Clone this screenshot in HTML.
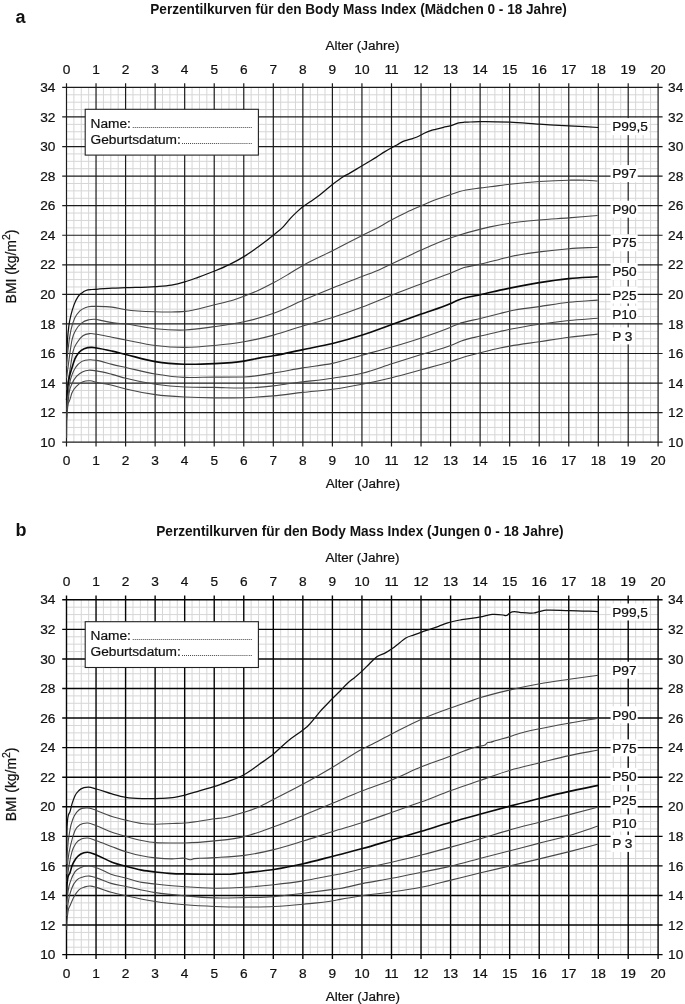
<!DOCTYPE html>
<html><head><meta charset="utf-8"><title>Perzentilkurven BMI</title>
<style>
html,body{margin:0;padding:0;background:#fff;}
body{width:685px;height:1004px;overflow:hidden;}
svg{display:block;}
.t{font-family:'Liberation Sans', Arial, Helvetica, sans-serif;font-size:13.7px;fill:#111;stroke:#111;stroke-width:0.22px;}
.tb{font-family:'Liberation Sans', Arial, Helvetica, sans-serif;font-size:14px;font-weight:bold;fill:#111;}
.lt{font-family:'Liberation Sans', Arial, Helvetica, sans-serif;font-size:18px;font-weight:bold;fill:#111;}
.d{font-family:'Liberation Sans',Arial,sans-serif;font-size:8.6px;fill:#222;}
.sup{font-size:10.5px;}
</style></head><body>
<svg width="685" height="1004" viewBox="0 0 685 1004">
<rect width="685" height="1004" fill="#fff"/>
<path d="M73.89,87.41V442.2M81.27,87.41V442.2M88.66,87.41V442.2M103.43,87.41V442.2M110.82,87.41V442.2M118.2,87.41V442.2M132.97,87.41V442.2M140.36,87.41V442.2M147.75,87.41V442.2M162.52,87.41V442.2M169.91,87.41V442.2M177.29,87.41V442.2M192.06,87.41V442.2M199.45,87.41V442.2M206.84,87.41V442.2M221.61,87.41V442.2M228.99,87.41V442.2M236.38,87.41V442.2M251.15,87.41V442.2M258.54,87.41V442.2M265.92,87.41V442.2M280.7,87.41V442.2M288.08,87.41V442.2M295.47,87.41V442.2M310.24,87.41V442.2M317.63,87.41V442.2M325.01,87.41V442.2M339.79,87.41V442.2M347.17,87.41V442.2M354.56,87.41V442.2M369.33,87.41V442.2M376.72,87.41V442.2M384.1,87.41V442.2M398.87,87.41V442.2M406.26,87.41V442.2M413.65,87.41V442.2M428.42,87.41V442.2M435.81,87.41V442.2M443.19,87.41V442.2M457.96,87.41V442.2M465.35,87.41V442.2M472.74,87.41V442.2M487.51,87.41V442.2M494.89,87.41V442.2M502.28,87.41V442.2M517.05,87.41V442.2M524.44,87.41V442.2M531.82,87.41V442.2M546.6,87.41V442.2M553.98,87.41V442.2M561.37,87.41V442.2M576.14,87.41V442.2M583.53,87.41V442.2M590.91,87.41V442.2M605.77,87.41V442.2M613.25,87.41V442.2M620.73,87.41V442.2M635.67,87.41V442.2M643.15,87.41V442.2M650.62,87.41V442.2M66.5,434.81H658.1M66.5,427.42H658.1M66.5,420.03H658.1M66.5,405.24H658.1M66.5,397.85H658.1M66.5,390.46H658.1M66.5,375.68H658.1M66.5,368.28H658.1M66.5,360.89H658.1M66.5,346.11H658.1M66.5,338.72H658.1M66.5,331.33H658.1M66.5,316.54H658.1M66.5,309.15H658.1M66.5,301.76H658.1M66.5,286.98H658.1M66.5,279.59H658.1M66.5,272.2H658.1M66.5,257.41H658.1M66.5,250.02H658.1M66.5,242.63H658.1M66.5,227.85H658.1M66.5,220.45H658.1M66.5,213.06H658.1M66.5,198.28H658.1M66.5,190.89H658.1M66.5,183.5H658.1M66.5,168.71H658.1M66.5,161.32H658.1M66.5,153.93H658.1M66.5,139.15H658.1M66.5,131.76H658.1M66.5,124.37H658.1M66.5,109.58H658.1M66.5,102.19H658.1M66.5,94.8H658.1" stroke="#d6d6d6" stroke-width="1" fill="none"/>
<path d="M66.5,83.21V446.5M96.04,83.21V446.5M125.59,83.21V446.5M155.13,83.21V446.5M184.68,83.21V446.5M214.22,83.21V446.5M243.77,83.21V446.5M273.31,83.21V446.5M302.86,83.21V446.5M332.4,83.21V446.5M361.94,83.21V446.5M391.49,83.21V446.5M421.03,83.21V446.5M450.58,83.21V446.5M480.12,83.21V446.5M509.67,83.21V446.5M539.21,83.21V446.5M568.76,83.21V446.5M598.3,83.21V446.5M628.2,83.21V446.5M658.1,83.21V446.5M62.2,442.2H662.6M62.2,412.63H662.6M62.2,383.07H662.6M62.2,353.5H662.6M62.2,323.94H662.6M62.2,294.37H662.6M62.2,264.8H662.6M62.2,235.24H662.6M62.2,205.67H662.6M62.2,176.11H662.6M62.2,146.54H662.6M62.2,116.97H662.6M62.2,87.41H662.6" stroke="#1c1c1c" stroke-width="1.2" fill="none"/>
<path d="M66.6,356 C66.9,350.6 67.2,344.3 67.5,339.8 C68,332.3 68.5,328.72 69,324.8 C69.67,319.58 70.33,317.77 71,314.9 C72,310.6 73,307.68 74,304.9 C75.3,301.29 76.6,298.89 77.9,296.9 C79.23,294.86 80.57,293.97 81.9,292.9 C83.23,291.83 84.57,291.07 85.9,290.5 C87.9,289.65 89.9,289.69 91.9,289.5 C93.4,289.35 94.9,289.38 96.4,289.3 C101.6,289.04 106.8,288.47 112,288.2 C116.6,287.96 121.2,287.87 125.8,287.7 C135.67,287.34 145.53,287.33 155.4,286.6 C160.73,286.21 166.07,286.03 171.4,285.1 C175.83,284.33 180.27,283.2 184.7,281.9 C189.13,280.6 193.57,278.9 198,277.3 C203.57,275.3 209.13,273.28 214.7,271 C219.57,269.01 224.43,267 229.3,264.6 C234.17,262.2 239.03,259.58 243.9,256.6 C248.83,253.58 253.77,250.18 258.7,246.6 C263.77,242.93 268.83,239 273.9,234.8 C277.07,232.17 280.23,229.91 283.4,226.6 C285.67,224.23 287.93,221.07 290.2,218.6 C292.53,216.06 294.87,213.76 297.2,211.6 C299.17,209.78 301.13,208.03 303.1,206.5 C305.43,204.69 307.77,203.39 310.1,201.8 C313.2,199.68 316.3,197.72 319.4,195.3 C321.73,193.48 324.07,191.33 326.4,189.4 C328.5,187.67 330.6,185.93 332.7,184.3 C336.07,181.69 339.43,179.1 342.8,177 C345.13,175.54 347.47,174.44 349.8,173.1 C353.2,171.15 356.6,169.04 360,167 C362.67,165.4 365.33,163.79 368,162.2 C370.7,160.59 373.4,159.09 376.1,157.4 C378.77,155.73 381.43,153.76 384.1,152.1 C386.6,150.54 389.1,149.05 391.6,147.7 C393.37,146.74 395.13,145.97 396.9,145 C398.8,143.95 400.7,142.49 402.6,141.6 C405,140.48 407.4,140.17 409.8,139.4 C412.2,138.63 414.6,138.02 417,137 C419.4,135.98 421.8,134.41 424.2,133.3 C426.37,132.3 428.53,131.32 430.7,130.6 C432.3,130.07 433.9,129.72 435.5,129.3 C438.17,128.6 440.83,127.93 443.5,127.3 C446.03,126.7 448.57,126.34 451.1,125.6 C453.67,124.85 456.23,123.35 458.8,122.8 C460.67,122.4 462.53,122.33 464.4,122.2 C466.27,122.07 468.13,122.07 470,122 C473.37,121.88 476.73,121.68 480.1,121.6 C490.07,121.36 500.03,121.76 510,122.2 C519.83,122.63 529.67,123.58 539.5,124.2 C549.33,124.82 559.17,125.35 569,125.9 C578.77,126.45 588.53,126.97 598.3,127.5" stroke="#111" stroke-width="1.25" fill="none" stroke-linejoin="round"/>
<path d="M66.6,366 C67.07,360.57 67.53,354.39 68,349.7 C69,339.65 70,334.89 71,329.8 C72.3,323.19 73.6,320.83 74.9,317.8 C76.57,313.91 78.23,312.6 79.9,310.9 C81.9,308.86 83.9,308.15 85.9,307.4 C87.9,306.65 89.9,306.54 91.9,306.4 C93.4,306.29 94.9,306.38 96.4,306.4 C101.6,306.45 106.8,306.47 112,307.1 C116.6,307.66 121.2,309.01 125.8,309.7 C135.67,311.19 145.53,311.48 155.4,311.8 C160.27,311.96 165.13,312.07 170,312 C174.9,311.93 179.8,311.9 184.7,311.4 C194.63,310.39 204.57,307.07 214.5,304.7 C220.83,303.19 227.17,302.01 233.5,300 C236.97,298.9 240.43,297.61 243.9,296.3 C248.83,294.43 253.77,292.45 258.7,290.2 C263.77,287.89 268.83,285.33 273.9,282.6 C278.77,279.98 283.63,277.09 288.5,274.2 C293.3,271.35 298.1,268.15 302.9,265.4 C312.77,259.74 322.63,255.69 332.5,250.7 C342.4,245.69 352.3,240.44 362.2,235.4 C368.13,232.38 374.07,229.63 380,226.4 C383.8,224.33 387.6,221.96 391.4,219.9 C396.37,217.21 401.33,214.73 406.3,212.4 C411.27,210.07 416.23,208.03 421.2,205.9 C426.17,203.77 431.13,201.5 436.1,199.6 C441.07,197.7 446.03,196.25 451,194.5 C453.6,193.58 456.2,192.51 458.8,191.7 C466.1,189.44 473.4,188.88 480.7,187.9 C483.8,187.48 486.9,187.18 490,186.8 C496.6,185.99 503.2,184.96 509.8,184.2 C519.63,183.07 529.47,182.17 539.3,181.5 C549.1,180.84 558.9,180.36 568.7,180.2 C574.6,180.1 580.5,179.94 586.4,180.2 C590.13,180.36 593.87,180.73 597.6,181" stroke="#484848" stroke-width="1.1" fill="none" stroke-linejoin="round"/>
<path d="M66.6,378 C67.4,371.9 68.2,365.45 69,359.7 C70,352.52 71,344.66 72,339.8 C73.33,333.32 74.67,332.43 76,329.8 C77.97,325.93 79.93,324.45 81.9,322.8 C84.23,320.84 86.57,320.37 88.9,319.8 C90.9,319.31 92.9,319.21 94.9,319.3 C97.2,319.4 99.5,320.16 101.8,320.6 C105.2,321.25 108.6,322.07 112,322.6 C116.6,323.32 121.2,323.45 125.8,324 C135.67,325.18 145.53,327.7 155.4,328.7 C165.17,329.69 174.93,330.33 184.7,330 C194.63,329.66 204.57,327.98 214.5,326.6 C224.3,325.24 234.1,323.99 243.9,321.8 C253.83,319.58 263.77,316.93 273.7,313.3 C283.47,309.73 293.23,304.5 303,300.3 C312.87,296.06 322.73,291.98 332.6,288 C342.4,284.05 352.2,280.35 362,276.5 C368,274.14 374,272.03 380,269.4 C383.8,267.74 387.6,265.87 391.4,264.1 C396.37,261.78 401.33,259.43 406.3,257.1 C411.27,254.77 416.23,252.38 421.2,250.1 C426.17,247.82 431.13,245.45 436.1,243.4 C441.07,241.35 446.03,239.53 451,237.8 C453.6,236.9 456.2,236.03 458.8,235.2 C466.1,232.87 473.4,230.92 480.7,229.1 C483.8,228.33 486.9,227.58 490,226.9 C496.6,225.44 503.2,224.23 509.8,223.2 C519.63,221.67 529.47,220.88 539.3,220 C549.1,219.12 558.9,218.66 568.7,217.9 C578.33,217.16 587.97,216.3 597.6,215.5" stroke="#484848" stroke-width="1.1" fill="none" stroke-linejoin="round"/>
<path d="M66.6,390 C67.73,383.2 68.87,376.38 70,369.6 C71,363.62 72,356.07 73,351.7 C74.33,345.87 75.67,345.12 77,342.7 C78.97,339.13 80.93,337.33 82.9,335.8 C85.23,333.98 87.57,333.82 89.9,333.6 C92.07,333.39 94.23,334.01 96.4,334.3 C101.6,334.99 106.8,336.29 112,337.3 C116.6,338.19 121.2,339.11 125.8,340 C135.67,341.9 145.53,344.27 155.4,345.5 C165.07,346.71 174.73,347.38 184.4,347.4 C194.43,347.42 204.47,346.45 214.5,345.5 C224.3,344.57 234.1,343.52 243.9,341.8 C253.83,340.06 263.77,337.77 273.7,335.1 C283.43,332.48 293.17,328.9 302.9,326 C312.77,323.06 322.63,320.74 332.5,317.6 C342.43,314.44 352.37,310.9 362.3,307.1 C368.2,304.84 374.1,302.41 380,300 C383.8,298.45 387.6,296.83 391.4,295.3 C396.37,293.3 401.33,291.4 406.3,289.5 C411.27,287.6 416.23,285.75 421.2,283.9 C426.17,282.05 431.13,280.23 436.1,278.4 C441.07,276.57 446.03,274.83 451,272.9 C455.37,271.21 459.73,268.99 464.1,267.6 C469.63,265.83 475.17,265.38 480.7,264.1 C487.13,262.62 493.57,260.84 500,259.2 C503.27,258.37 506.53,257.46 509.8,256.7 C519.67,254.41 529.53,253.23 539.4,251.9 C549.23,250.57 559.07,249.49 568.9,248.7 C578.53,247.93 588.17,247.7 597.8,247.2" stroke="#484848" stroke-width="1.1" fill="none" stroke-linejoin="round"/>
<path d="M66.6,400 C67.23,394 67.87,386.79 68.5,382 C69.67,373.17 70.83,371.9 72,367.8 C72.97,364.4 73.93,361.27 74.9,358.9 C76.23,355.63 77.57,354.14 78.9,352.5 C80.9,350.03 82.9,349.26 84.9,348.4 C87.23,347.4 89.57,347.34 91.9,347.4 C93.4,347.44 94.9,347.78 96.4,348 C101.6,348.77 106.8,349.94 112,351.1 C116.6,352.13 121.2,353.38 125.8,354.5 C135.67,356.91 145.53,359.98 155.4,361.6 C165.07,363.19 174.73,363.88 184.4,364.2 C194.43,364.54 204.47,364.1 214.5,363.6 C224.3,363.12 234.1,362.64 243.9,361.1 C249.3,360.25 254.7,358.85 260.1,357.9 C264.53,357.12 268.97,356.57 273.4,355.8 C283.2,354.09 293,351.64 302.8,349.6 C312.73,347.54 322.67,345.93 332.6,343.5 C342.53,341.07 352.47,338.18 362.4,335 C372.2,331.87 382,328.08 391.8,324.6 C401.6,321.12 411.4,317.59 421.2,314.1 C431.03,310.59 440.87,308.07 450.7,303.6 C453.27,302.43 455.83,300.92 458.4,299.9 C461.8,298.55 465.2,297.81 468.6,297 C472.5,296.07 476.4,295.61 480.3,294.8 C486.87,293.44 493.43,291.52 500,290.1 C503.27,289.4 506.53,288.75 509.8,288.1 C519.67,286.13 529.53,284.19 539.4,282.6 C549.23,281.02 559.07,279.59 568.9,278.6 C578.53,277.63 588.17,277.33 597.8,276.7" stroke="#0a0a0a" stroke-width="1.6" fill="none" stroke-linejoin="round"/>
<path d="M66.6,410 C67.57,401.27 68.53,389.69 69.5,383.8 C70.33,378.72 71.17,377.37 72,374.9 C73.33,370.95 74.67,368.99 76,366.9 C77.97,363.82 79.93,362.58 81.9,361.4 C84.73,359.7 87.57,359.74 90.4,359.7 C92.4,359.67 94.4,360.09 96.4,360.4 C101.6,361.21 106.8,363.15 112,364.4 C116.6,365.5 121.2,366.47 125.8,367.5 C135.67,369.7 145.53,372.34 155.4,374 C165.07,375.62 174.73,377.11 184.4,377.4 C194.37,377.7 204.33,377.11 214.3,377.1 C224.1,377.09 233.9,377.1 243.7,377 C253.57,376.9 263.43,374.62 273.3,373.1 C283.1,371.59 292.9,369.51 302.7,367.9 C312.63,366.27 322.57,365.53 332.5,363.4 C342.37,361.29 352.23,357.93 362.1,355.2 C372,352.46 381.9,349.9 391.8,347 C401.6,344.13 411.4,341.19 421.2,337.9 C431.03,334.6 440.87,331.28 450.7,327.2 C453.27,326.13 455.83,324.88 458.4,323.9 C465.7,321.12 473,320.33 480.3,318.5 C486.87,316.86 493.43,315.17 500,313.5 C503.27,312.67 506.53,311.75 509.8,311 C519.67,308.74 529.53,308.05 539.4,306.6 C549.23,305.15 559.07,303.39 568.9,302.3 C578.53,301.23 588.17,300.83 597.8,300.1" stroke="#484848" stroke-width="1.1" fill="none" stroke-linejoin="round"/>
<path d="M66.6,420 C67.4,411.27 68.2,399.84 69,393.8 C70,386.25 71,386.48 72,383.8 C73.67,379.34 75.33,377.87 77,375.9 C78.97,373.58 80.93,372.65 82.9,371.7 C84.9,370.73 86.9,370.39 88.9,370.2 C91.4,369.96 93.9,370.56 96.4,370.9 C101.6,371.61 106.8,373.07 112,374.4 C116.6,375.57 121.2,377.12 125.8,378.3 C135.67,380.84 145.53,382.85 155.4,384.3 C165.07,385.72 174.73,386.63 184.4,387 C194.37,387.38 204.33,387.28 214.3,387.4 C224.1,387.52 233.9,388.25 243.7,388 C253.57,387.75 263.43,387.13 273.3,385.9 C278.13,385.3 282.97,384.36 287.8,383.7 C292.77,383.02 297.73,382.51 302.7,381.9 C312.63,380.69 322.57,379.64 332.5,378.2 C342.37,376.77 352.23,375.69 362.1,373.3 C372,370.9 381.9,366.95 391.8,363.8 C401.6,360.68 411.4,357.55 421.2,354.5 C431.03,351.44 440.87,349.3 450.7,345.5 C454.23,344.14 457.77,342.38 461.3,341.1 C467.63,338.8 473.97,337.58 480.3,336 C486.87,334.37 493.43,332.98 500,331.5 C503.27,330.76 506.53,329.99 509.8,329.3 C519.67,327.21 529.53,325.67 539.4,324.2 C549.23,322.74 559.07,321.49 568.9,320.5 C578.53,319.53 588.17,319.03 597.8,318.3" stroke="#484848" stroke-width="1.1" fill="none" stroke-linejoin="round"/>
<path d="M66.6,438 C66.73,429.57 66.87,414.87 67,412.7 C67.67,401.84 68.33,402.71 69,401.8 C70,400.44 71,395.2 72,392.8 C73.67,388.8 75.33,387.58 77,385.8 C78.97,383.7 80.93,382.57 82.9,381.8 C85.4,380.82 87.9,380.62 90.4,380.8 C92.4,380.94 94.4,381.83 96.4,382.3 C101.6,383.52 106.8,384.09 112,385.3 C116.6,386.37 121.2,387.88 125.8,389 C135.67,391.4 145.53,393.26 155.4,394.6 C165.07,395.91 174.73,396.45 184.4,397 C194.37,397.57 204.33,397.83 214.3,397.9 C224.1,397.96 233.9,397.89 243.7,397.7 C253.57,397.51 263.43,396.79 273.3,395.9 C283.1,395.02 292.9,393.49 302.7,392.4 C312.63,391.29 322.57,390.67 332.5,389.3 C342.37,387.94 352.23,386.13 362.1,384.2 C372,382.26 381.9,380.11 391.8,377.7 C401.6,375.31 411.4,372.5 421.2,369.8 C431.03,367.1 440.87,364.69 450.7,361.5 C454.23,360.35 457.77,359.01 461.3,357.9 C467.63,355.91 473.97,354.42 480.3,352.8 C486.87,351.12 493.43,349.38 500,348 C503.27,347.31 506.53,346.7 509.8,346.1 C519.67,344.3 529.53,343.17 539.4,341.7 C549.23,340.24 559.07,338.58 568.9,337.3 C578.53,336.05 588.17,335.17 597.8,334.1" stroke="#484848" stroke-width="1.1" fill="none" stroke-linejoin="round"/>
<rect x="610.6" y="118.1" width="38.6" height="17" fill="#fff"/>
<text x="612.2" y="131.3" class="t">P99,5</text>
<rect x="610.6" y="165.1" width="27.1" height="17" fill="#fff"/>
<text x="612.2" y="178.3" class="t">P97</text>
<rect x="610.6" y="200.7" width="27.1" height="17" fill="#fff"/>
<text x="612.2" y="213.9" class="t">P90</text>
<rect x="610.6" y="234.2" width="27.1" height="17" fill="#fff"/>
<text x="612.2" y="247.4" class="t">P75</text>
<rect x="610.6" y="262.9" width="27.1" height="17" fill="#fff"/>
<text x="612.2" y="276.1" class="t">P50</text>
<rect x="610.6" y="286.5" width="27.1" height="17" fill="#fff"/>
<text x="612.2" y="299.7" class="t">P25</text>
<rect x="610.6" y="305.9" width="27.1" height="17" fill="#fff"/>
<text x="612.2" y="319.1" class="t">P10</text>
<rect x="610.6" y="327.4" width="24.2" height="17" fill="#fff"/>
<text x="612.2" y="340.6" class="t">P 3</text>
<rect x="85.2" y="109.3" width="173.2" height="45.8" fill="#fff" stroke="#222" stroke-width="1.1"/>
<text x="90.6" y="127.6" class="t" textLength="40.2">Name:</text>
<text x="131.9" y="127.6" class="d" textLength="120.4" lengthAdjust="spacing">............................................................</text>
<text x="90.6" y="143.7" class="t" textLength="90.2">Geburtsdatum:</text>
<text x="181.3" y="143.7" class="d" textLength="71" lengthAdjust="spacing">...................................</text>
<text x="66.5" y="73.7" class="t" text-anchor="middle">0</text>
<text x="66.5" y="465.4" class="t" text-anchor="middle">0</text>
<text x="96.04" y="73.7" class="t" text-anchor="middle">1</text>
<text x="96.04" y="465.4" class="t" text-anchor="middle">1</text>
<text x="125.59" y="73.7" class="t" text-anchor="middle">2</text>
<text x="125.59" y="465.4" class="t" text-anchor="middle">2</text>
<text x="155.13" y="73.7" class="t" text-anchor="middle">3</text>
<text x="155.13" y="465.4" class="t" text-anchor="middle">3</text>
<text x="184.68" y="73.7" class="t" text-anchor="middle">4</text>
<text x="184.68" y="465.4" class="t" text-anchor="middle">4</text>
<text x="214.22" y="73.7" class="t" text-anchor="middle">5</text>
<text x="214.22" y="465.4" class="t" text-anchor="middle">5</text>
<text x="243.77" y="73.7" class="t" text-anchor="middle">6</text>
<text x="243.77" y="465.4" class="t" text-anchor="middle">6</text>
<text x="273.31" y="73.7" class="t" text-anchor="middle">7</text>
<text x="273.31" y="465.4" class="t" text-anchor="middle">7</text>
<text x="302.86" y="73.7" class="t" text-anchor="middle">8</text>
<text x="302.86" y="465.4" class="t" text-anchor="middle">8</text>
<text x="332.4" y="73.7" class="t" text-anchor="middle">9</text>
<text x="332.4" y="465.4" class="t" text-anchor="middle">9</text>
<text x="361.94" y="73.7" class="t" text-anchor="middle">10</text>
<text x="361.94" y="465.4" class="t" text-anchor="middle">10</text>
<text x="391.49" y="73.7" class="t" text-anchor="middle">11</text>
<text x="391.49" y="465.4" class="t" text-anchor="middle">11</text>
<text x="421.03" y="73.7" class="t" text-anchor="middle">12</text>
<text x="421.03" y="465.4" class="t" text-anchor="middle">12</text>
<text x="450.58" y="73.7" class="t" text-anchor="middle">13</text>
<text x="450.58" y="465.4" class="t" text-anchor="middle">13</text>
<text x="480.12" y="73.7" class="t" text-anchor="middle">14</text>
<text x="480.12" y="465.4" class="t" text-anchor="middle">14</text>
<text x="509.67" y="73.7" class="t" text-anchor="middle">15</text>
<text x="509.67" y="465.4" class="t" text-anchor="middle">15</text>
<text x="539.21" y="73.7" class="t" text-anchor="middle">16</text>
<text x="539.21" y="465.4" class="t" text-anchor="middle">16</text>
<text x="568.76" y="73.7" class="t" text-anchor="middle">17</text>
<text x="568.76" y="465.4" class="t" text-anchor="middle">17</text>
<text x="598.3" y="73.7" class="t" text-anchor="middle">18</text>
<text x="598.3" y="465.4" class="t" text-anchor="middle">18</text>
<text x="628.2" y="73.7" class="t" text-anchor="middle">19</text>
<text x="628.2" y="465.4" class="t" text-anchor="middle">19</text>
<text x="658.1" y="73.7" class="t" text-anchor="middle">20</text>
<text x="658.1" y="465.4" class="t" text-anchor="middle">20</text>
<text x="55.4" y="446.8" class="t" text-anchor="end">10</text>
<text x="668.1" y="446.8" class="t">10</text>
<text x="55.4" y="417.23" class="t" text-anchor="end">12</text>
<text x="668.1" y="417.23" class="t">12</text>
<text x="55.4" y="387.67" class="t" text-anchor="end">14</text>
<text x="668.1" y="387.67" class="t">14</text>
<text x="55.4" y="358.1" class="t" text-anchor="end">16</text>
<text x="668.1" y="358.1" class="t">16</text>
<text x="55.4" y="328.54" class="t" text-anchor="end">18</text>
<text x="668.1" y="328.54" class="t">18</text>
<text x="55.4" y="298.97" class="t" text-anchor="end">20</text>
<text x="668.1" y="298.97" class="t">20</text>
<text x="55.4" y="269.4" class="t" text-anchor="end">22</text>
<text x="668.1" y="269.4" class="t">22</text>
<text x="55.4" y="239.84" class="t" text-anchor="end">24</text>
<text x="668.1" y="239.84" class="t">24</text>
<text x="55.4" y="210.27" class="t" text-anchor="end">26</text>
<text x="668.1" y="210.27" class="t">26</text>
<text x="55.4" y="180.71" class="t" text-anchor="end">28</text>
<text x="668.1" y="180.71" class="t">28</text>
<text x="55.4" y="151.14" class="t" text-anchor="end">30</text>
<text x="668.1" y="151.14" class="t">30</text>
<text x="55.4" y="121.57" class="t" text-anchor="end">32</text>
<text x="668.1" y="121.57" class="t">32</text>
<text x="55.4" y="92.01" class="t" text-anchor="end">34</text>
<text x="668.1" y="92.01" class="t">34</text>
<text x="325.4" y="49.6" class="t" textLength="74.2" lengthAdjust="spacingAndGlyphs">Alter (Jahre)</text>
<text x="325.7" y="487.8" class="t" textLength="74.2" lengthAdjust="spacingAndGlyphs">Alter (Jahre)</text>
<text transform="translate(15.7,266.5) rotate(-90)" class="t" style="font-size:13.9px" text-anchor="middle">BMI (kg/m<tspan class="sup" dy="-5.4">2</tspan><tspan dy="5.4">)</tspan></text>
<text x="150.3" y="13.6" class="tb" textLength="416.6" lengthAdjust="spacingAndGlyphs">Perzentilkurven für den Body Mass Index (Mädchen 0 - 18 Jahre)</text>
<text x="15.4" y="23.2" class="lt">a</text>
<path d="M73.89,599.81V954.6M81.27,599.81V954.6M88.66,599.81V954.6M103.43,599.81V954.6M110.82,599.81V954.6M118.2,599.81V954.6M132.97,599.81V954.6M140.36,599.81V954.6M147.75,599.81V954.6M162.52,599.81V954.6M169.91,599.81V954.6M177.29,599.81V954.6M192.06,599.81V954.6M199.45,599.81V954.6M206.84,599.81V954.6M221.61,599.81V954.6M228.99,599.81V954.6M236.38,599.81V954.6M251.15,599.81V954.6M258.54,599.81V954.6M265.92,599.81V954.6M280.7,599.81V954.6M288.08,599.81V954.6M295.47,599.81V954.6M310.24,599.81V954.6M317.63,599.81V954.6M325.01,599.81V954.6M339.79,599.81V954.6M347.17,599.81V954.6M354.56,599.81V954.6M369.33,599.81V954.6M376.72,599.81V954.6M384.1,599.81V954.6M398.87,599.81V954.6M406.26,599.81V954.6M413.65,599.81V954.6M428.42,599.81V954.6M435.81,599.81V954.6M443.19,599.81V954.6M457.96,599.81V954.6M465.35,599.81V954.6M472.74,599.81V954.6M487.51,599.81V954.6M494.89,599.81V954.6M502.28,599.81V954.6M517.05,599.81V954.6M524.44,599.81V954.6M531.82,599.81V954.6M546.6,599.81V954.6M553.98,599.81V954.6M561.37,599.81V954.6M576.14,599.81V954.6M583.53,599.81V954.6M590.91,599.81V954.6M605.77,599.81V954.6M613.25,599.81V954.6M620.73,599.81V954.6M635.67,599.81V954.6M643.15,599.81V954.6M650.62,599.81V954.6M66.5,947.21H658.1M66.5,939.82H658.1M66.5,932.43H658.1M66.5,917.64H658.1M66.5,910.25H658.1M66.5,902.86H658.1M66.5,888.08H658.1M66.5,880.68H658.1M66.5,873.29H658.1M66.5,858.51H658.1M66.5,851.12H658.1M66.5,843.73H658.1M66.5,828.94H658.1M66.5,821.55H658.1M66.5,814.16H658.1M66.5,799.38H658.1M66.5,791.99H658.1M66.5,784.6H658.1M66.5,769.81H658.1M66.5,762.42H658.1M66.5,755.03H658.1M66.5,740.25H658.1M66.5,732.86H658.1M66.5,725.46H658.1M66.5,710.68H658.1M66.5,703.29H658.1M66.5,695.9H658.1M66.5,681.11H658.1M66.5,673.72H658.1M66.5,666.33H658.1M66.5,651.55H658.1M66.5,644.16H658.1M66.5,636.77H658.1M66.5,621.98H658.1M66.5,614.59H658.1M66.5,607.2H658.1" stroke="#d6d6d6" stroke-width="1" fill="none"/>
<path d="M66.5,595.61V958.9M96.04,595.61V958.9M125.59,595.61V958.9M155.13,595.61V958.9M184.68,595.61V958.9M214.22,595.61V958.9M243.77,595.61V958.9M273.31,595.61V958.9M302.86,595.61V958.9M332.4,595.61V958.9M361.94,595.61V958.9M391.49,595.61V958.9M421.03,595.61V958.9M450.58,595.61V958.9M480.12,595.61V958.9M509.67,595.61V958.9M539.21,595.61V958.9M568.76,595.61V958.9M598.3,595.61V958.9M628.2,595.61V958.9M658.1,595.61V958.9M62.2,954.6H662.6M62.2,925.03H662.6M62.2,895.47H662.6M62.2,865.9H662.6M62.2,836.34H662.6M62.2,806.77H662.6M62.2,777.2H662.6M62.2,747.64H662.6M62.2,718.07H662.6M62.2,688.51H662.6M62.2,658.94H662.6M62.2,629.37H662.6M62.2,599.81H662.6" stroke="#050505" stroke-width="1.4" fill="none"/>
<path d="M66.7,846 C66.8,839.6 66.9,828.46 67,826.8 C67.83,812.94 68.67,814 69.5,812.9 C70.33,811.8 71.17,806.58 72,803.9 C72.97,800.8 73.93,797.99 74.9,795.9 C76.23,793.01 77.57,791.83 78.9,790.5 C80.57,788.84 82.23,788.24 83.9,787.7 C85.4,787.21 86.9,787.19 88.4,787.2 C91.07,787.23 93.73,788.32 96.4,789 C101.6,790.33 106.8,792.45 112,793.9 C116.6,795.18 121.2,796.52 125.8,797.3 C131.1,798.2 136.4,798.4 141.7,798.6 C146.27,798.77 150.83,798.75 155.4,798.6 C156.93,798.55 158.47,798.48 160,798.4 C164.87,798.15 169.73,798.05 174.6,797.3 C178.1,796.76 181.6,795.97 185.1,795.1 C189.87,793.92 194.63,792.2 199.4,790.8 C204.5,789.3 209.6,788.08 214.7,786.4 C219.33,784.87 223.97,783.09 228.6,781.3 C232,779.98 235.4,778.77 238.8,777.2 C240.5,776.42 242.2,775.61 243.9,774.7 C249.27,771.83 254.63,767.59 260,763.8 C264.6,760.55 269.2,757.47 273.8,753.7 C278.33,749.99 282.87,745.13 287.4,741.4 C292.6,737.12 297.8,734.06 303,730 C304.47,728.85 305.93,727.84 307.4,726.5 C310.63,723.56 313.87,719.16 317.1,715.2 C318.07,714.02 319.03,712.75 320,711.6 C322.4,708.75 324.8,706.51 327.2,704 C329.03,702.08 330.87,700.16 332.7,698.3 C335.27,695.69 337.83,693.31 340.4,690.7 C342.8,688.26 345.2,685.43 347.6,683.2 C349.97,681 352.33,679.38 354.7,677.4 C357.23,675.28 359.77,673.26 362.3,670.9 C364.53,668.82 366.77,666.36 369,664.2 C371.73,661.56 374.47,658.48 377.2,656.6 C379.93,654.72 382.67,654.41 385.4,652.9 C387.57,651.71 389.73,650.32 391.9,648.8 C394.5,646.98 397.1,644.72 399.7,642.7 C401.73,641.12 403.77,639.23 405.8,638 C408.53,636.35 411.27,635.92 414,634.9 C416.53,633.95 419.07,633 421.6,632.1 C423.83,631.31 426.07,630.57 428.3,629.8 C431.7,628.63 435.1,627.51 438.5,626.3 C441.57,625.21 444.63,623.86 447.7,622.9 C452.33,621.44 456.97,620.61 461.6,619.7 C467.9,618.47 474.2,618.1 480.5,616.9 C484.37,616.17 488.23,614.7 492.1,614.4 C495.8,614.11 499.5,614.52 503.2,615 C504.3,615.14 505.4,615.8 506.5,615.5 C507.73,615.16 508.97,613.42 510.2,612.7 C514.33,610.29 518.47,612.67 522.6,612.7 C526.3,612.73 530,613.3 533.7,613 C535.73,612.84 537.77,611.86 539.8,611.4 C541.93,610.92 544.07,610.28 546.2,610.2 C553.87,609.9 561.53,610.45 569.2,610.5 C578.93,610.56 588.67,611.23 598.4,611.6" stroke="#111" stroke-width="1.25" fill="none" stroke-linejoin="round"/>
<path d="M66.7,864 C66.97,859.23 67.23,853.83 67.5,849.7 C68.33,836.81 69.17,834.81 70,829.8 C71,823.79 72,821.63 73,818.8 C74.33,815.02 75.67,813.59 77,811.9 C78.63,809.82 80.27,808.84 81.9,808.4 C83.73,807.9 85.57,807.83 87.4,807.9 C88.9,807.95 90.4,808.28 91.9,808.7 C93.4,809.12 94.9,809.83 96.4,810.4 C101.6,812.37 106.8,814.72 112,816.4 C116.6,817.88 121.2,818.98 125.8,820.1 C131.1,821.39 136.4,822.83 141.7,823.5 C146.27,824.08 150.83,824.15 155.4,824.2 C161.07,824.26 166.73,823.73 172.4,823.5 C176.6,823.33 180.8,823.3 185,823 C194.83,822.31 204.67,820.07 214.5,818.8 C218,818.35 221.5,818.12 225,817.5 C231.33,816.38 237.67,814.34 244,812.3 C249,810.69 254,809.09 259,806.9 C263.93,804.74 268.87,801.84 273.8,799.3 C283.6,794.26 293.4,789.44 303.2,784.1 C313.13,778.68 323.07,772.89 333,767 C342.8,761.19 352.6,754.13 362.4,749 C364.93,747.67 367.47,746.48 370,745.2 C377.23,741.55 384.47,737.68 391.7,734 C401.6,728.96 411.5,723.57 421.4,719.2 C431.27,714.84 441.13,711.33 451,707.8 C456.33,705.89 461.67,704.15 467,702.3 C471.5,700.74 476,699.04 480.5,697.6 C490.4,694.43 500.3,692.2 510.2,689.9 C520.07,687.6 529.93,685.57 539.8,683.8 C549.6,682.04 559.4,680.74 569.2,679.3 C578.93,677.87 588.67,676.57 598.4,675.2" stroke="#484848" stroke-width="1.1" fill="none" stroke-linejoin="round"/>
<path d="M66.7,874 C67.13,869.23 67.57,863.72 68,859.7 C69,850.41 70,848.15 71,843.7 C72.3,837.91 73.6,833.9 74.9,830.8 C76.57,826.83 78.23,825.92 79.9,824.8 C82.57,823 85.23,822.9 87.9,823 C90.73,823.1 93.57,824.78 96.4,825.8 C101.6,827.67 106.8,830.46 112,832.3 C116.6,833.92 121.2,835.12 125.8,836.4 C131.1,837.88 136.4,839.43 141.7,840.5 C146.27,841.42 150.83,842.28 155.4,842.6 C161.07,843 166.73,842.96 172.4,843 C176.6,843.03 180.8,843.09 185,843 C194.9,842.79 204.8,841.97 214.7,840.9 C224.57,839.83 234.43,839.11 244.3,836.6 C246.23,836.11 248.17,835.57 250.1,835 C255.07,833.55 260.03,831.75 265,830 C267.93,828.96 270.87,827.88 273.8,826.8 C283.6,823.18 293.4,819.32 303.2,815.4 C313.13,811.42 323.07,807.25 333,803.1 C342.8,799.01 352.6,794.42 362.4,790.7 C364.93,789.74 367.47,788.83 370,787.9 C377.27,785.23 384.53,782.89 391.8,780 C401.67,776.07 411.53,770.8 421.4,766.8 C431.27,762.8 441.13,759.7 451,756 C454,754.88 457,753.71 460,752.6 C464.37,750.98 468.73,749.2 473.1,747.9 C475.5,747.19 477.9,746.42 480.3,746 C481.87,745.73 483.43,745.96 485,745.1 C485.87,744.63 486.73,742.88 487.6,742.6 C488.47,742.32 489.33,742.4 490.2,742.3 C491.8,742.12 493.4,741.29 495,740.8 C499.97,739.28 504.93,738.13 509.9,736.6 C513.27,735.56 516.63,734.29 520,733.3 C526.6,731.35 533.2,730.12 539.8,728.7 C549.6,726.59 559.4,724.86 569.2,723.1 C578.93,721.36 588.67,719.83 598.4,718.2" stroke="#484848" stroke-width="1.1" fill="none" stroke-linejoin="round"/>
<path d="M66.7,882 C67.47,876.57 68.23,870.33 69,865.7 C70,859.66 71,855.28 72,851.7 C73.33,846.93 74.67,845.29 76,843.2 C77.97,840.12 79.93,839.58 81.9,838.8 C83.9,838.01 85.9,837.9 87.9,838 C90.73,838.15 93.57,839.82 96.4,840.8 C101.6,842.6 106.8,844.78 112,846.7 C116.6,848.4 121.2,850.26 125.8,851.7 C131.1,853.36 136.4,854.73 141.7,855.8 C146.27,856.72 150.83,857.39 155.4,857.9 C161.07,858.53 166.73,858.91 172.4,858.9 C176.6,858.89 180.8,857.7 185,858.3 C186.67,858.54 188.33,859.86 190,859.8 C191.33,859.76 192.67,858.79 194,858.6 C196,858.31 198,858.37 200,858.3 C204.9,858.12 209.8,857.88 214.7,857.6 C224.57,857.04 234.43,856.74 244.3,855.4 C254.13,854.07 263.97,852.01 273.8,849.6 C283.6,847.2 293.4,843.99 303.2,841 C313.13,837.96 323.07,834.59 333,831.5 C342.8,828.46 352.6,825.79 362.4,822.6 C372.27,819.39 382.13,815.77 392,812.3 C401.87,808.83 411.73,805.45 421.6,801.8 C431.4,798.18 441.2,794.07 451,790.5 C460.9,786.9 470.8,783.69 480.7,780.3 C490.53,776.93 500.37,773.11 510.2,770.2 C520.07,767.28 529.93,765.24 539.8,762.8 C549.6,760.38 559.4,757.74 569.2,755.6 C578.93,753.48 588.67,751.87 598.4,750" stroke="#484848" stroke-width="1.1" fill="none" stroke-linejoin="round"/>
<path d="M66.7,896 C66.8,892.3 66.9,886.21 67,884.9 C67.83,873.97 68.67,875.14 69.5,873.9 C70.33,872.66 71.17,868.14 72,865.9 C73.3,862.4 74.6,860.4 75.9,858.5 C77.57,856.07 79.23,855.05 80.9,854 C83.07,852.64 85.23,852.27 87.4,852.2 C90.4,852.11 93.4,853.9 96.4,855 C101.6,856.9 106.8,860.25 112,862.2 C116.6,863.92 121.2,865.06 125.8,866.3 C131.1,867.73 136.4,869.12 141.7,870.1 C146.27,870.95 150.83,871.46 155.4,872 C161.07,872.67 166.73,873.3 172.4,873.6 C176.6,873.83 180.8,873.81 185,873.9 C194.9,874.11 204.8,874.3 214.7,874.3 C219.8,874.3 224.9,874.3 230,874.2 C234.77,874.11 239.53,873.29 244.3,872.8 C254.13,871.79 263.97,871 273.8,869.5 C283.6,868 293.4,866 303.2,863.8 C313.13,861.57 323.07,858.75 333,856.2 C342.8,853.68 352.6,851.31 362.4,848.6 C372.17,845.9 381.93,842.87 391.7,840 C401.57,837.1 411.43,834.26 421.3,831.3 C431.13,828.35 440.97,825.17 450.8,822.3 C460.77,819.4 470.73,816.72 480.7,814 C490.5,811.32 500.3,808.68 510.1,806.1 C519.9,803.52 529.7,800.93 539.5,798.5 C549.43,796.03 559.37,793.61 569.3,791.4 C578.97,789.25 588.63,787.4 598.3,785.4" stroke="#0a0a0a" stroke-width="1.6" fill="none" stroke-linejoin="round"/>
<path d="M66.7,905 C67.13,900.6 67.57,895.39 68,891.8 C69,883.52 70,883.03 71,879.9 C72.3,875.83 73.6,873.9 74.9,871.9 C76.9,868.82 78.9,868.41 80.9,867.4 C83.4,866.14 85.9,865.89 88.4,865.9 C91.07,865.92 93.73,866.89 96.4,867.7 C101.27,869.17 106.13,872.49 111,874.2 C115.93,875.93 120.87,876.69 125.8,878 C131.1,879.41 136.4,881.39 141.7,882.4 C146.27,883.27 150.83,883.5 155.4,884 C165.27,885.08 175.13,886.1 185,886.8 C194.9,887.5 204.8,888.12 214.7,888.2 C224.57,888.28 234.43,887.89 244.3,887.3 C254.13,886.72 263.97,885.77 273.8,884.7 C283.6,883.63 293.4,882.47 303.2,880.9 C313.13,879.31 323.07,876.94 333,875.2 C335.33,874.79 337.67,874.43 340,874 C347.43,872.62 354.87,870.51 362.3,868.8 C372.1,866.55 381.9,864.49 391.7,862.2 C401.57,859.89 411.43,857.52 421.3,855 C431.13,852.49 440.97,849.8 450.8,847.1 C460.77,844.37 470.73,841.61 480.7,838.7 C490.5,835.84 500.3,832.55 510.1,829.8 C519.9,827.05 529.7,824.72 539.5,822.2 C549.43,819.65 559.37,817.17 569.3,814.6 C578.97,812.1 588.63,809.53 598.3,807" stroke="#484848" stroke-width="1.1" fill="none" stroke-linejoin="round"/>
<path d="M66.7,916 C67.13,911.93 67.57,907.29 68,903.8 C69.33,893.05 70.67,891.7 72,887.8 C73.67,882.93 75.33,881.71 77,879.9 C78.97,877.76 80.93,877.55 82.9,876.9 C85.23,876.13 87.57,875.89 89.9,876.1 C92.07,876.29 94.23,877.23 96.4,877.9 C101.27,879.4 106.13,881.97 111,883.4 C115.93,884.85 120.87,885.47 125.8,886.5 C135.67,888.56 145.53,891.03 155.4,892.6 C165.27,894.17 175.13,895.02 185,895.9 C194.9,896.79 204.8,897.66 214.7,897.9 C224.57,898.14 234.43,897.78 244.3,897.6 C254.13,897.42 263.97,897.34 273.8,896.6 C283.6,895.87 293.4,894.39 303.2,893.2 C313.13,891.99 323.07,890.68 333,889.4 C335.33,889.1 337.67,888.85 340,888.5 C347.43,887.38 354.87,885.11 362.3,883.6 C372.1,881.61 381.9,880.18 391.7,878.3 C401.57,876.41 411.43,874.34 421.3,872.3 C431.13,870.27 440.97,868.41 450.8,866.1 C460.77,863.75 470.73,860.89 480.7,858.3 C490.5,855.76 500.3,853.23 510.1,850.7 C519.9,848.17 529.7,845.62 539.5,843.1 C549.43,840.55 559.37,838.4 569.3,835.5 C578.97,832.68 588.63,829.17 598.3,826" stroke="#484848" stroke-width="1.1" fill="none" stroke-linejoin="round"/>
<path d="M66.7,930 C66.8,927.23 66.9,923.27 67,921.7 C68,905.99 69,908.25 70,905.8 C71.33,902.54 72.67,899.31 74,896.8 C75.63,893.73 77.27,891.44 78.9,889.8 C80.9,887.79 82.9,887.52 84.9,886.9 C86.9,886.28 88.9,885.98 90.9,886.1 C92.73,886.21 94.57,886.92 96.4,887.4 C101.27,888.67 106.13,890.82 111,892.2 C115.93,893.6 120.87,894.6 125.8,895.7 C135.67,897.9 145.53,899.98 155.4,901.5 C165.27,903.02 175.13,903.97 185,904.8 C194.9,905.64 204.8,906.13 214.7,906.5 C224.57,906.87 234.43,907 244.3,907 C254.13,907 263.97,906.97 273.8,906.5 C283.6,906.03 293.4,905.14 303.2,904.2 C313.13,903.25 323.07,902.62 333,900.8 C335.33,900.37 337.67,899.85 340,899.4 C347.43,897.97 354.87,896.8 362.3,895.7 C372.1,894.24 381.9,893.41 391.7,892 C401.57,890.58 411.43,889.19 421.3,887.2 C431.13,885.22 440.97,882.48 450.8,880.1 C460.77,877.68 470.73,875.19 480.7,872.8 C490.5,870.45 500.3,868.22 510.1,865.9 C519.9,863.58 529.7,861.27 539.5,858.9 C549.43,856.5 559.37,854.12 569.3,851.6 C578.97,849.15 588.63,846.53 598.3,844" stroke="#484848" stroke-width="1.1" fill="none" stroke-linejoin="round"/>
<rect x="610.6" y="603.5" width="38.6" height="17" fill="#fff"/>
<text x="612.2" y="616.7" class="t">P99,5</text>
<rect x="610.6" y="661.7" width="27.1" height="17" fill="#fff"/>
<text x="612.2" y="674.9" class="t">P97</text>
<rect x="610.6" y="706.3" width="27.1" height="17" fill="#fff"/>
<text x="612.2" y="719.5" class="t">P90</text>
<rect x="610.6" y="739.4" width="27.1" height="17" fill="#fff"/>
<text x="612.2" y="752.6" class="t">P75</text>
<rect x="610.6" y="767.9" width="27.1" height="17" fill="#fff"/>
<text x="612.2" y="781.1" class="t">P50</text>
<rect x="610.6" y="791.4" width="27.1" height="17" fill="#fff"/>
<text x="612.2" y="804.6" class="t">P25</text>
<rect x="610.6" y="814.5" width="27.1" height="17" fill="#fff"/>
<text x="612.2" y="827.7" class="t">P10</text>
<rect x="610.6" y="834.9" width="24.2" height="17" fill="#fff"/>
<text x="612.2" y="848.1" class="t">P 3</text>
<rect x="85.2" y="621.7" width="173.2" height="45.8" fill="#fff" stroke="#222" stroke-width="1.1"/>
<text x="90.6" y="640" class="t" textLength="40.2">Name:</text>
<text x="131.9" y="640" class="d" textLength="120.4" lengthAdjust="spacing">............................................................</text>
<text x="90.6" y="656.1" class="t" textLength="90.2">Geburtsdatum:</text>
<text x="181.3" y="656.1" class="d" textLength="71" lengthAdjust="spacing">...................................</text>
<text x="66.5" y="586.1" class="t" text-anchor="middle">0</text>
<text x="66.5" y="977.8" class="t" text-anchor="middle">0</text>
<text x="96.04" y="586.1" class="t" text-anchor="middle">1</text>
<text x="96.04" y="977.8" class="t" text-anchor="middle">1</text>
<text x="125.59" y="586.1" class="t" text-anchor="middle">2</text>
<text x="125.59" y="977.8" class="t" text-anchor="middle">2</text>
<text x="155.13" y="586.1" class="t" text-anchor="middle">3</text>
<text x="155.13" y="977.8" class="t" text-anchor="middle">3</text>
<text x="184.68" y="586.1" class="t" text-anchor="middle">4</text>
<text x="184.68" y="977.8" class="t" text-anchor="middle">4</text>
<text x="214.22" y="586.1" class="t" text-anchor="middle">5</text>
<text x="214.22" y="977.8" class="t" text-anchor="middle">5</text>
<text x="243.77" y="586.1" class="t" text-anchor="middle">6</text>
<text x="243.77" y="977.8" class="t" text-anchor="middle">6</text>
<text x="273.31" y="586.1" class="t" text-anchor="middle">7</text>
<text x="273.31" y="977.8" class="t" text-anchor="middle">7</text>
<text x="302.86" y="586.1" class="t" text-anchor="middle">8</text>
<text x="302.86" y="977.8" class="t" text-anchor="middle">8</text>
<text x="332.4" y="586.1" class="t" text-anchor="middle">9</text>
<text x="332.4" y="977.8" class="t" text-anchor="middle">9</text>
<text x="361.94" y="586.1" class="t" text-anchor="middle">10</text>
<text x="361.94" y="977.8" class="t" text-anchor="middle">10</text>
<text x="391.49" y="586.1" class="t" text-anchor="middle">11</text>
<text x="391.49" y="977.8" class="t" text-anchor="middle">11</text>
<text x="421.03" y="586.1" class="t" text-anchor="middle">12</text>
<text x="421.03" y="977.8" class="t" text-anchor="middle">12</text>
<text x="450.58" y="586.1" class="t" text-anchor="middle">13</text>
<text x="450.58" y="977.8" class="t" text-anchor="middle">13</text>
<text x="480.12" y="586.1" class="t" text-anchor="middle">14</text>
<text x="480.12" y="977.8" class="t" text-anchor="middle">14</text>
<text x="509.67" y="586.1" class="t" text-anchor="middle">15</text>
<text x="509.67" y="977.8" class="t" text-anchor="middle">15</text>
<text x="539.21" y="586.1" class="t" text-anchor="middle">16</text>
<text x="539.21" y="977.8" class="t" text-anchor="middle">16</text>
<text x="568.76" y="586.1" class="t" text-anchor="middle">17</text>
<text x="568.76" y="977.8" class="t" text-anchor="middle">17</text>
<text x="598.3" y="586.1" class="t" text-anchor="middle">18</text>
<text x="598.3" y="977.8" class="t" text-anchor="middle">18</text>
<text x="628.2" y="586.1" class="t" text-anchor="middle">19</text>
<text x="628.2" y="977.8" class="t" text-anchor="middle">19</text>
<text x="658.1" y="586.1" class="t" text-anchor="middle">20</text>
<text x="658.1" y="977.8" class="t" text-anchor="middle">20</text>
<text x="55.4" y="959.2" class="t" text-anchor="end">10</text>
<text x="668.1" y="959.2" class="t">10</text>
<text x="55.4" y="929.63" class="t" text-anchor="end">12</text>
<text x="668.1" y="929.63" class="t">12</text>
<text x="55.4" y="900.07" class="t" text-anchor="end">14</text>
<text x="668.1" y="900.07" class="t">14</text>
<text x="55.4" y="870.5" class="t" text-anchor="end">16</text>
<text x="668.1" y="870.5" class="t">16</text>
<text x="55.4" y="840.94" class="t" text-anchor="end">18</text>
<text x="668.1" y="840.94" class="t">18</text>
<text x="55.4" y="811.37" class="t" text-anchor="end">20</text>
<text x="668.1" y="811.37" class="t">20</text>
<text x="55.4" y="781.8" class="t" text-anchor="end">22</text>
<text x="668.1" y="781.8" class="t">22</text>
<text x="55.4" y="752.24" class="t" text-anchor="end">24</text>
<text x="668.1" y="752.24" class="t">24</text>
<text x="55.4" y="722.67" class="t" text-anchor="end">26</text>
<text x="668.1" y="722.67" class="t">26</text>
<text x="55.4" y="693.11" class="t" text-anchor="end">28</text>
<text x="668.1" y="693.11" class="t">28</text>
<text x="55.4" y="663.54" class="t" text-anchor="end">30</text>
<text x="668.1" y="663.54" class="t">30</text>
<text x="55.4" y="633.97" class="t" text-anchor="end">32</text>
<text x="668.1" y="633.97" class="t">32</text>
<text x="55.4" y="604.41" class="t" text-anchor="end">34</text>
<text x="668.1" y="604.41" class="t">34</text>
<text x="325.4" y="562" class="t" textLength="74.2" lengthAdjust="spacingAndGlyphs">Alter (Jahre)</text>
<text x="325.7" y="1001.1" class="t" textLength="74.2" lengthAdjust="spacingAndGlyphs">Alter (Jahre)</text>
<text transform="translate(15.7,784.4) rotate(-90)" class="t" style="font-size:13.9px" text-anchor="middle">BMI (kg/m<tspan class="sup" dy="-5.4">2</tspan><tspan dy="5.4">)</tspan></text>
<text x="156.2" y="535.7" class="tb" textLength="407.4" lengthAdjust="spacingAndGlyphs">Perzentilkurven für den Body Mass Index (Jungen 0 - 18 Jahre)</text>
<text x="15.4" y="535.6" class="lt">b</text>
</svg>
</body></html>
